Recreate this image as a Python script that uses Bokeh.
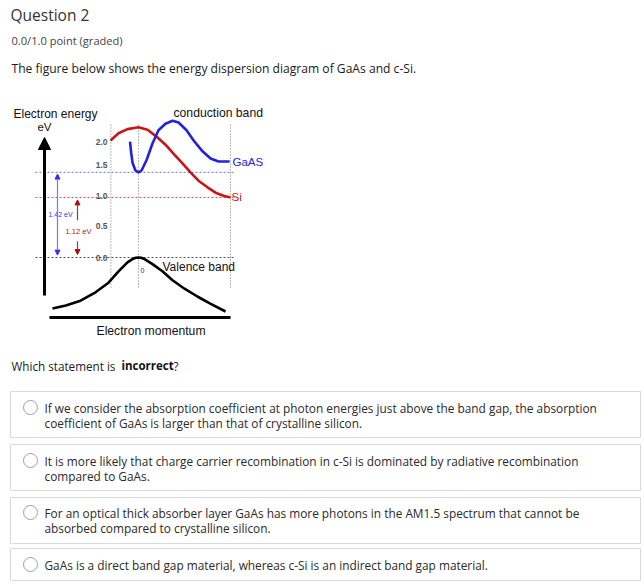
from bokeh.plotting import figure
from bokeh.models import Range1d, Arrow, NormalHead
from bokeh.embed import file_html
from bokeh.resources import INLINE
from bokeh.core.properties import value

W, H = 644, 584

# ---------------- data (momentum k in units of the X point, energy in eV) ----
gaas_k = [-0.092, -0.08, -0.065, -0.033, 0.0, 0.033, 0.087, 0.152, 0.217, 0.293,
          0.37, 0.435, 0.522, 0.609, 0.696, 0.783, 0.87, 0.99]
gaas_e = [1.93, 1.75, 1.58, 1.45, 1.42, 1.45, 1.62, 1.90, 2.12, 2.23,
          2.28, 2.25, 2.12, 1.93, 1.77, 1.65, 1.60, 1.60]

si_k = [-0.304, -0.217, -0.12, 0.0, 0.098, 0.207, 0.293, 0.38, 0.478, 0.565,
        0.652, 0.75, 0.837, 0.924, 1.0]
si_e = [1.95, 2.07, 2.14, 2.17, 2.13, 2.00, 1.88, 1.73, 1.57, 1.42,
        1.28, 1.17, 1.08, 1.03, 1.00]

vb_k = [-0.935, -0.79, -0.63, -0.467, -0.326, -0.217, -0.12, -0.07, -0.03, 0.0,
        0.03, 0.07, 0.152, 0.26, 0.37, 0.5, 0.64, 0.78, 0.946]
vb_e = [-0.85, -0.80, -0.72, -0.58, -0.42, -0.23, -0.08, -0.03, -0.005, 0.0,
        -0.005, -0.03, -0.11, -0.23, -0.38, -0.52, -0.65, -0.77, -0.90]

gaas_gap = 1.42
si_gap = 1.00          # position of the Si band edge as drawn
gap_texts = ["1.42 eV", "1.12 eV"]
tick_labels = ["2.0", "1.5", "1.0", "0.5", "0.0"]
tick_pos = [1.93, 1.55, 1.03, 0.52, 0.0]
k_lines = [-0.30, 0.0, 1.0]

question = "Question 2"
score = "0.0/1.0 point (graded)"
intro = "The figure below shows the energy dispersion diagram of GaAs and c-Si."
options = [
    ["If we consider the absorption coefficient at photon energies just above the band gap, the absorption",
     "coefficient of GaAs is larger than that of crystalline silicon."],
    ["It is more likely that charge carrier recombination in c-Si is dominated by radiative recombination",
     "compared to GaAs."],
    ["For an optical thick absorber layer GaAs has more photons in the AM1.5 spectrum that cannot be",
     "absorbed compared to crystalline silicon."],
    ["GaAs is a direct band gap material, whereas c-Si is an indirect band gap material."],
]

# ---------------- scale of the page ----------------
K0_PX, E0_PX = 138, 257
PX_PER_K, PX_PER_E = 92.0, 60.0


def X(px):
    return (px - K0_PX) / PX_PER_K


def Y(py):
    return (E0_PX - py) / PX_PER_E


p = figure(width=W, height=H, output_backend="svg", toolbar_location=None,
           x_range=Range1d(X(0), X(W)), y_range=Range1d(Y(H), Y(0)),
           min_border=0, outline_line_color=None)
p.axis.visible = False
p.grid.visible = False
p.background_fill_color = "white"
p.border_fill_color = "white"

PAGE_FONT = value("Open Sans")
DIA_FONT = value("Liberation Sans")


def txt(px, py, s, size, color="#222", font=PAGE_FONT, style="normal", align="left"):
    p.text(x=[X(px)], y=[Y(py)], text=[s], text_font=font, text_font_size=size,
           text_color=color, text_font_style=style, text_baseline="middle",
           text_align=align)


# ---------------- page header ----------------
txt(10, 14, question, "15.5px", "#333")
txt(11, 40, score, "11.1px", "#444")
txt(11, 68, intro, "12.1px", "#1a1a1a")

txt(11, 365, "Which statement is", "11.7px", "#222")
txt(121, 365, "incorrect", "11.5px", "#111", style="bold")
txt(173, 365, "?", "11.7px", "#222")

# ---------------- option boxes ----------------
box_top = [391, 444, 497, 548]
box_bot = [437, 490, 543, 580]
p.quad(left=X(10), right=X(640), top=[Y(t) for t in box_top],
       bottom=[Y(b) for b in box_bot], fill_color="white", line_color="#dadada",
       line_width=1)
circ_y = [407, 460, 512, 564]
p.scatter(x=[X(30)] * 4, y=[Y(c) for c in circ_y], size=14, marker="circle",
          fill_color="white", line_color="#a0a0a0", line_width=1)
for cy, lines in zip(circ_y, options):
    for i, line in enumerate(lines):
        txt(44, cy + 15 * i, line, "11.85px", "#2a2a2a")

# ---------------- diagram ----------------
# vertical dotted guide lines
p.segment(x0=k_lines, y0=-0.5, x1=k_lines, y1=2.25, line_color="#777777",
          line_dash="1 2", line_width=1)
# band-edge dashed lines
p.segment(x0=X(35), y0=gaas_gap, x1=X(233), y1=gaas_gap, line_color="#6a6ae0",
          line_dash="2 2", line_width=1)
p.segment(x0=X(35), y0=si_gap, x1=X(233), y1=si_gap, line_color="#e05050",
          line_dash="2 2", line_width=1)
p.segment(x0=X(35), y0=0.0, x1=X(233), y1=0.0, line_color="#555555",
          line_dash="2 2", line_width=1)

# tick labels
for lab, pos in zip(tick_labels, tick_pos):
    p.text(x=[X(107)], y=[pos], text=[lab], text_font=DIA_FONT, text_font_size="8.5px",
           text_color="#555555", text_font_style="bold", text_baseline="middle",
           text_align="right")

# bands
p.line(si_k, si_e, line_color="#cc1414", line_width=2.6)
p.line(gaas_k, gaas_e, line_color="#2222dd", line_width=2.6)
p.line(vb_k, vb_e, line_color="black", line_width=2.6)

# momentum axis
p.line([X(49), X(230)], [Y(317), Y(317)], line_color="black", line_width=3)

# energy axis arrow
p.add_layout(Arrow(end=NormalHead(size=12, fill_color="black", line_color="black"),
                   x_start=X(44), y_start=Y(295), x_end=X(44), y_end=Y(137),
                   line_color="black", line_width=3))

# gap arrows
p.add_layout(Arrow(start=NormalHead(size=5, fill_color="#3333ee", line_color="#3333ee"),
                   end=NormalHead(size=5, fill_color="#3333ee", line_color="#3333ee"),
                   x_start=X(57), y_start=0.04, x_end=X(57), y_end=gaas_gap - 0.03,
                   line_color="#7777ee", line_width=1.2))
p.add_layout(Arrow(end=NormalHead(size=5, fill_color="#aa1111", line_color="#aa1111"),
                   x_start=X(77), y_start=0.62, x_end=X(77), y_end=si_gap - 0.04,
                   line_color="#aa3333", line_width=1.2))
p.add_layout(Arrow(end=NormalHead(size=5, fill_color="#aa1111", line_color="#aa1111"),
                   x_start=X(77), y_start=0.27, x_end=X(77), y_end=0.05,
                   line_color="#aa3333", line_width=1.2))
txt(60, 214, gap_texts[0], "7px", "#3333ee", font=DIA_FONT, align="center")
txt(78, 231, gap_texts[1], "7.5px", "#aa2222", font=DIA_FONT, align="center")

# diagram labels
txt(13, 113, "Electron energy", "12px", "#111", font=DIA_FONT)
txt(44, 126, "eV", "11.5px", "#111", font=DIA_FONT, align="center")
txt(173, 112, "conduction band", "12.2px", "#111", font=DIA_FONT)
txt(232, 161, "GaAS", "11.5px", "#2222dd", font=DIA_FONT)
txt(231, 196, "Si", "11.5px", "#cc1414", font=DIA_FONT)
txt(162, 266, "Valence band", "12px", "#111", font=DIA_FONT)
txt(142, 270, "0", "7px", "#333", font=DIA_FONT, align="center")
txt(96, 330, "Electron momentum", "12.2px", "#111", font=DIA_FONT)

open("out.html", "w").write(file_html(p, INLINE))
